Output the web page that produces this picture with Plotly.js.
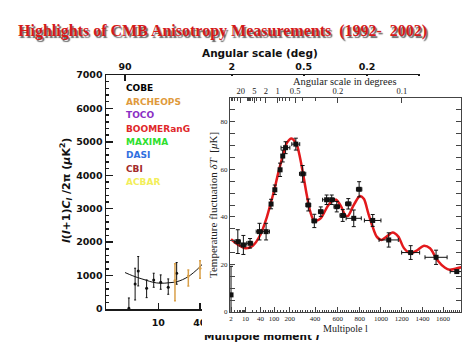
<!DOCTYPE html>
<html><head><meta charset="utf-8">
<script src="https://cdn.plot.ly/plotly-3.0.1.min.js"></script>
<style>
html,body{margin:0;padding:0;background:#fff;width:474px;height:355px;overflow:hidden}
#a{position:absolute;left:0;top:0;width:474px;height:355px}
#b{position:absolute;left:202px;top:76px;width:272px;height:259px}
</style></head><body>
<div id="a"></div><div id="b"></div>
<script>
// ===== Left (background) chart: l(l+1)Cl/2pi [uK^2] =====
const cobeL = [2.5, 3.5, 4.1, 6.1, 8.3, 11, 14.6, 19.6];
const cobeD = [20, 750, 1140, 620, 870, 800, 650, 1070];
const cobeErrUp = [310, 470, 430, 250, 200, 220, 250, 320];
const cobeErrDn = [20, 480, 450, 280, 220, 210, 210, 330];
const archL = [18.5, 28.5, 40.2];
const archD = [850, 990, 1220];
const archErrUp = [500, 180, 220];
const archErrDn = [600, 300, 300];
const modelL = [2, 3, 4, 6, 8, 11, 15, 20, 28, 40, 60];
const modelD = [1090, 1000, 940, 860, 800, 770, 785, 820, 960, 1260, 1800];
const expNames = ['COBE','ARCHEOPS','TOCO','BOOMERanG','MAXIMA','DASI','CBI','ACBAR'];
const expColors = ['#000000','#e09a3c','#8a2fc4','#e0282a','#2ee02e','#2f6fe0','#a32a2a','#f2ee5a'];
const leftYTicks = [0, 1000, 2000, 3000, 4000, 5000, 6000, 7000];
const leftBottomL = [10, 40];
const leftTopTheta = [90, 2, 0.5, 0.2];

// ===== Right (foreground) chart: deltaT [uK] =====
const binL = [2, 4.3, 7.9, 15.7, 37, 61, 84, 104, 135, 152, 171, 245, 298, 344, 394, 449, 500, 545, 590, 644, 695, 745, 795, 922, 1074, 1285, 1532, 1735];
const binT = [7.2, 29.6, 28.2, 28.9, 33.8, 33.8, 45.4, 51.4, 59.8, 65.6, 69.1, 70.6, 58.1, 45.0, 38.3, 42.2, 47.2, 47.2, 44.3, 40.6, 45.5, 39.4, 51.6, 38.5, 30.3, 25.0, 23.0, 17.0];
const binTErr = [12, 5, 4, 2, 3.5, 3.5, 2, 2, 2.8, 2.5, 2.5, 2.5, 3.5, 2.5, 2.8, 2, 2, 2, 2.2, 2.5, 2.2, 3.5, 3.2, 2.5, 3, 2.9, 3, 0.3];
const binLErr = [0, 1.4, 2.5, 4.5, 9, 15, 6, 6, 8, 8, 30, 30, 25, 20, 20, 20, 35, 25, 25, 25, 25, 70, 25, 78, 92, 87, 108, 65];
const fitL = [2, 5, 10, 20, 40, 63, 80, 100, 124, 156, 177, 213, 252, 277, 303, 331, 360, 394, 448, 510, 555, 585, 630, 668, 692, 737, 783, 805, 840, 880, 921, 960, 1007, 1054, 1112, 1166, 1221, 1285, 1343, 1408, 1473, 1543, 1620, 1665, 1710, 1780];
const fitT = [30.6, 28, 26.8, 27.8, 32.5, 39.5, 45, 51, 58.5, 66.5, 70.8, 73, 70.3, 65, 57.7, 49.3, 42.2, 38.3, 39.4, 44.6, 46.9, 47.2, 44.3, 40.6, 40.4, 44.3, 47.9, 48.8, 47.5, 41.6, 35.9, 31.7, 30.3, 31.7, 33.4, 31.7, 26.8, 24.7, 25.8, 27.8, 26.8, 21.9, 18.6, 17.8, 18.1, 18.8];
const rightBottomL = [2, 10, 40, 100, 200, 400, 600, 800, 1000, 1200, 1400, 1600];
const rightTopTheta = [20, 5, 2, 1, 0.5, 0.2, 0.1];
const rightTopMinorTheta = [90, 80, 70, 60, 50, 40, 30, 10, 9, 8, 7, 6, 4, 3, 0.9, 0.8, 0.7, 0.6, 0.4, 0.3];
const rightYTicks = [0, 20, 40, 60, 80];

// ---- axis mappings ----
const Q = l => Math.pow(l, 0.25);            // left panel multipole scale
const U = l => l + 88.8 * Math.log(l);       // right panel multipole scale

const cfg = {displayModeBar:false, staticPlot:true};

// ================= LEFT =================
const sans = 'DejaVu Sans';
const axL = '#1a1a1a';
const La = {l:106, r:56, t:75, b:46};
const pxA = (x) => (x - La.l) / (474 - La.l - La.r);
const pyA = (y) => (355 - La.b - y) / (355 - La.t - La.b);

const tracesA = [
  {x: modelL.map(Q), y: modelD, mode:'lines', line:{color:'#111', width:1, shape:'spline'}, hoverinfo:'skip'},
  {x: cobeL.map(Q), y: cobeD, mode:'markers', marker:{color:'#111', size:3},
   error_y:{type:'data', symmetric:false, array:cobeErrUp, arrayminus:cobeErrDn, color:'#111', thickness:1, width:1}},
  {x: archL.map(Q), y: archD, mode:'markers', marker:{color:'#d9a04a', size:3},
   error_y:{type:'data', symmetric:false, array:archErrUp, arrayminus:archErrDn, color:'#d9a04a', thickness:1.5, width:1}},
  {x: [Q(10)], y: [-1000], xaxis:'x2', yaxis:'y', mode:'markers', hoverinfo:'skip'}
];

const tickFontA = {family:sans, size:9.5, color:'#111', weight:'bold'};
const annA = [
  {text:'<b>Highlights of CMB Anisotropy Measurements\u00a0\u00a0(1992-\u00a0\u00a02002)</b>',
   xref:'paper', yref:'paper', x:pxA(222.5), y:pyA(30.5), xanchor:'center', yanchor:'middle', showarrow:false,
   font:{family:'Liberation Serif', size:16, color:'#d41a1a', weight:'bold', shadow:'1.5px 1.5px 1px #666'}},
  {text:'Angular scale (deg)', xref:'paper', yref:'paper', x:pxA(260), y:pyA(53), xanchor:'center', yanchor:'middle',
   showarrow:false, font:{family:sans, size:10.5, color:'#111', weight:'bold'}},
  {text:'<i>l</i>(<i>l</i>+1)<i>C</i><sub><i>l</i></sub> /2π (<i>μ</i>K<sup>2</sup>)', xref:'paper', yref:'paper',
   x:pxA(66), y:pyA(191), xanchor:'center', yanchor:'middle', textangle:-90, showarrow:false,
   font:{family:sans, size:11, color:'#111', weight:'bold'}},
  {text:'Multipole moment <i>l</i>', xref:'paper', yref:'paper', x:pxA(262), y:pyA(336), xanchor:'center', yanchor:'middle',
   showarrow:false, font:{family:sans, size:10.5, color:'#111', weight:'bold'}}
];
expNames.forEach((n, i) => {
  annA.push({text:n, xref:'paper', yref:'paper', x:pxA(124), y:pyA(88.3 + i*13.4), xanchor:'left', yanchor:'middle',
    showarrow:false, font:{family:sans, size:9, color:expColors[i], weight:'bold'}});
});

const layoutA = {
  width:474, height:355, margin:{l:La.l, r:La.r, t:La.t, b:La.b, pad:0},
  paper_bgcolor:'#fff', plot_bgcolor:'#fff', showlegend:false,
  xaxis:{range:[0.852, 6.38], tickmode:'array', tickvals:leftBottomL.map(Q), ticktext:leftBottomL.map(String),
    ticks:'inside', ticklen:6, tickwidth:1.5, tickcolor:axL, showline:true, linecolor:axL, linewidth:1.5,
    showgrid:false, zeroline:false, tickfont:tickFontA, ticklabelstandoff:4},
  xaxis2:{overlaying:'x', side:'top', anchor:'y', range:[0.852, 6.38], tickmode:'array',
    tickvals:leftTopTheta.map(t => Q(180/t)), ticktext:leftTopTheta.map(String),
    ticks:'inside', ticklen:6, tickwidth:1.5, tickcolor:axL, showline:true, linecolor:axL, linewidth:1.5,
    showgrid:false, zeroline:false, tickfont:tickFontA},
  yaxis:{range:[0, 7000], tickmode:'array', tickvals:leftYTicks, ticks:'inside', ticklen:7, tickwidth:1.5,
    tickcolor:axL, showline:true, linecolor:axL, linewidth:1.5, mirror:true, showgrid:false, zeroline:false,
    tickfont:tickFontA, minor:{dtick:200, ticks:'inside', ticklen:3, tickcolor:axL, showgrid:false}},
  annotations:annA
};
Plotly.newPlot('a', tracesA, layoutA, cfg);

// ================= RIGHT =================
const serif = 'Liberation Serif';
const axR = '#444';
const Lb = {l:28, r:13, t:22, b:23};
const W = 272, H = 259;
const pxB = (x) => (x - 202 - Lb.l) / (W - Lb.l - Lb.r);
const pyB = (y) => (76 + H - Lb.b - y) / (H - Lb.t - Lb.b);
const uRange = [53, 2441];

const errPlus = binL.map((l, i) => U(l + binLErr[i]) - U(l));
const errMinus = binL.map((l, i) => U(l) - U(Math.max(l - binLErr[i], 1.01)));

const minorBottom = [];
[3,4,5,6,7,8,9,20,30,50,60,70,80,90].forEach(v => minorBottom.push(U(v)));
for (let v = 120; v <= 1780; v += 20) { if (v % 200 !== 0) minorBottom.push(U(v)); }

const tracesB = [
  {x: fitL.map(U), y: fitT, mode:'lines', line:{color:'#e3191c', width:2.5, shape:'spline', smoothing:0.8}, hoverinfo:'skip'},
  {x: binL.map(U), y: binT, mode:'markers', marker:{symbol:'square', size:5, color:'#111'},
   error_y:{type:'data', array:binTErr, color:'#111', thickness:1, width:2},
   error_x:{type:'data', symmetric:false, array:errPlus, arrayminus:errMinus, color:'#111', thickness:1, width:2}},
  {x: [U(100)], y: [-10], xaxis:'x2', yaxis:'y', mode:'markers', hoverinfo:'skip'}
];

const annB = [
  {text:'Angular scale in degrees', xref:'paper', yref:'paper', x:pxB(345), y:pyB(81.5), xanchor:'center', yanchor:'middle',
   showarrow:false, font:{family:serif, size:10.5, color:'#222'}},
  {text:'Multipole l', xref:'paper', yref:'paper', x:pxB(345), y:pyB(328), xanchor:'center', yanchor:'middle',
   showarrow:false, font:{family:serif, size:10, color:'#222'}},
  {text:'Temperature fluctuation <i>δT</i>\u00a0\u00a0[<i>μ</i>K]', xref:'paper', yref:'paper', x:pxB(213), y:pyB(205),
   xanchor:'center', yanchor:'middle', textangle:-90, showarrow:false, font:{family:serif, size:11, color:'#222'}}
];

const layoutB = {
  width:W, height:H, margin:{l:Lb.l, r:Lb.r, t:Lb.t, b:Lb.b, pad:0},
  paper_bgcolor:'#fff', plot_bgcolor:'#fff', showlegend:false,
  xaxis:{range:uRange, tickmode:'array', tickvals:rightBottomL.map(U), ticktext:rightBottomL.map(String),
    ticks:'inside', ticklen:5, tickwidth:1, tickcolor:axR, showline:true, linecolor:axR, linewidth:1,
    showgrid:false, zeroline:false, tickfont:{family:serif, size:7, color:'#222'},
    minor:{tickmode:'array', tickvals:minorBottom, ticks:'inside', ticklen:2.5, tickcolor:axR, showgrid:false}},
  xaxis2:{overlaying:'x', side:'top', anchor:'y', range:uRange, tickmode:'array',
    tickvals:rightTopTheta.map(t => U(120/t)), ticktext:rightTopTheta.map(String),
    ticks:'inside', ticklen:5, tickwidth:1, tickcolor:axR, showline:true, linecolor:axR, linewidth:1,
    showgrid:false, zeroline:false, tickfont:{family:serif, size:8.5, color:'#222'},
    minor:{tickmode:'array', tickvals:rightTopMinorTheta.map(t => U(120/t)), ticks:'inside', ticklen:3, tickcolor:axR, showgrid:false}},
  yaxis:{range:[0, 90], tickmode:'array', tickvals:rightYTicks, ticks:'inside', ticklen:5, tickwidth:1,
    tickcolor:axR, showline:true, linecolor:axR, linewidth:1, mirror:'allticks', showgrid:false, zeroline:false,
    tickfont:{family:serif, size:7, color:'#222'},
    minor:{dtick:5, ticks:'inside', ticklen:2.5, tickcolor:axR, showgrid:false}},
  annotations:annB
};
Plotly.newPlot('b', tracesB, layoutB, cfg);
</script>
</body></html>
